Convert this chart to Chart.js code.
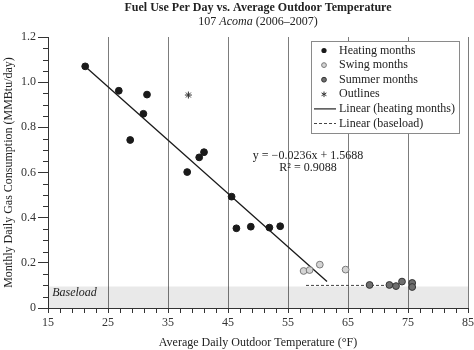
<!DOCTYPE html>
<html>
<head>
<meta charset="utf-8">
<script src="https://cdn.jsdelivr.net/npm/chart.js@4.4.1/dist/chart.umd.min.js"></script>
<style>
html,body{margin:0;padding:0;background:#fff;}
#wrap{width:474px;height:350px;position:relative;}
</style>
</head>
<body>
<div id="wrap"><canvas id="c" width="474" height="350"></canvas></div>
<script>
// ---- data ----
const heatingTemp = [21.2, 26.8, 31.5, 30.9, 28.7, 38.2, 40.2, 41.0, 45.6, 46.4, 48.8, 51.9, 53.7];
const heatingUse  = [1.07, 0.962, 0.945, 0.860, 0.744, 0.602, 0.667, 0.690, 0.493, 0.353, 0.360, 0.356, 0.362];
const swingTemp = [57.6, 58.6, 60.3, 64.6];
const swingUse  = [0.164, 0.168, 0.192, 0.170];
const summerTemp = [68.6, 71.9, 73.0, 74.0, 75.7, 75.7];
const summerUse  = [0.102, 0.102, 0.097, 0.117, 0.111, 0.093];
const outlierTemp = [38.4];
const outlierUse  = [0.943];
const fitTemp = [21.2, 61.5];
const fitUse  = [1.069, 0.117];
const baseTemp = [58, 72];
const baseUse  = [0.1, 0.1];
const bandTemp = [15, 85];
const bandUse  = [0.095, 0.095];
const xMin = 15, xMax = 85, xMinorStep = 2, xMajorStep = 10;
const yMin = 0, yMax = 1.2, yMinorStep = 0.05, yMajorStep = 0.2;
const titleText = "Fuel Use Per Day vs. Average Outdoor Temperature";
const subtitleParts = ["107 ", "Acoma", " (2006\u20132007)"];
const equationText = "y = \u22120.0236x + 1.5688";
const r2Text = "R\u00b2 = 0.9088";
const legendLabels = ["Heating months", "Swing months", "Summer months", "Outlines", "Linear (heating months)", "Linear (baseload)"];
const xTitle = "Average Daily Outdoor Temperature (\u00b0F)";
const yTitle = "Monthly Daily Gas Consumption (MMBtu/day)";

const pts = (xs, ys) => xs.map((x, i) => ({x: x, y: ys[i]}));
const SERIF = '"Liberation Serif", "DejaVu Serif", serif';
const isMajorX = v => Math.abs(((v - xMin) / xMajorStep) - Math.round((v - xMin) / xMajorStep)) < 1e-6;
const isMajorY = v => Math.abs((v / yMajorStep) - Math.round(v / yMajorStep)) < 1e-6;

const overlay = {
  id: 'overlay',
  afterDraw(chart) {
    const ctx = chart.ctx;
    const xs = chart.scales.x, ys = chart.scales.y;
    ctx.save();
    // minor y ticks (shorter)
    ctx.strokeStyle = '#333'; ctx.lineWidth = 1;
    const left = chart.chartArea.left;
    for (let v = yMin; v <= yMax + 1e-9; v += yMinorStep) {
      if (isMajorY(v)) continue;
      const py = Math.round(ys.getPixelForValue(v)) + 0.5;
      ctx.beginPath(); ctx.moveTo(left - 5, py); ctx.lineTo(left, py); ctx.stroke();
    }
    // title & subtitle
    const cx = (chart.chartArea.left + chart.chartArea.right) / 2;
    ctx.fillStyle = '#222';
    ctx.textBaseline = 'middle';
    ctx.textAlign = 'center';
    ctx.font = 'bold 12px ' + SERIF;
    ctx.fillText(titleText, cx, 8);
    const fonts = ['12px ' + SERIF, 'italic 12px ' + SERIF, '12px ' + SERIF];
    let total = 0;
    subtitleParts.forEach((s, i) => { ctx.font = fonts[i]; total += ctx.measureText(s).width; });
    let sx = cx - total / 2;
    ctx.textAlign = 'left';
    subtitleParts.forEach((s, i) => { ctx.font = fonts[i]; ctx.fillText(s, sx, 22); sx += ctx.measureText(s).width; });
    // equation
    ctx.textAlign = 'center';
    ctx.font = '12px ' + SERIF;
    ctx.fillText(equationText, 308, 156);
    ctx.fillText(r2Text, 308, 168);
    // baseload label
    ctx.textAlign = 'left';
    ctx.font = 'italic 12px ' + SERIF;
    ctx.fillText('Baseload', xs.getPixelForValue(15.7), ys.getPixelForValue(0.065));
    // legend
    const lx = 311, ly = 41, lw = 148, lh = 92;
    ctx.fillStyle = '#fff';
    ctx.fillRect(lx, ly, lw, lh);
    ctx.strokeStyle = '#8a8a8a';
    ctx.strokeRect(lx + 0.5, ly + 0.5, lw, lh);
    const rowH = 14.6, y0 = ly + 9.5, mx = 324, tx = 339;
    ctx.font = '12px ' + SERIF;
    legendLabels.forEach((lab, i) => {
      const yy = y0 + i * rowH;
      ctx.lineWidth = 1;
      if (i === 0) { ctx.fillStyle = '#1a1a1a'; ctx.beginPath(); ctx.arc(mx, yy, 2.6, 0, Math.PI * 2); ctx.fill(); }
      if (i === 1) { ctx.fillStyle = '#d4d4d4'; ctx.strokeStyle = '#777'; ctx.beginPath(); ctx.arc(mx, yy, 2.4, 0, Math.PI * 2); ctx.fill(); ctx.stroke(); }
      if (i === 2) { ctx.fillStyle = '#6e6e6e'; ctx.strokeStyle = '#333'; ctx.beginPath(); ctx.arc(mx, yy, 2.4, 0, Math.PI * 2); ctx.fill(); ctx.stroke(); }
      if (i === 3) {
        ctx.strokeStyle = '#333';
        for (let k = 0; k < 3; k++) {
          const a = k * Math.PI / 3 + Math.PI / 2;
          ctx.beginPath(); ctx.moveTo(mx - 2.8 * Math.cos(a), yy - 2.8 * Math.sin(a)); ctx.lineTo(mx + 2.8 * Math.cos(a), yy + 2.8 * Math.sin(a)); ctx.stroke();
        }
      }
      if (i === 4) { ctx.strokeStyle = '#222'; ctx.lineWidth = 1.2; ctx.beginPath(); ctx.moveTo(314, yy); ctx.lineTo(336, yy); ctx.stroke(); }
      if (i === 5) { ctx.strokeStyle = '#444'; ctx.setLineDash([3, 2]); ctx.beginPath(); ctx.moveTo(314, yy); ctx.lineTo(336, yy); ctx.stroke(); ctx.setLineDash([]); }
      ctx.fillStyle = '#222';
      ctx.fillText(lab, tx, yy);
    });
    ctx.restore();
  }
};

new Chart(document.getElementById('c'), {
  type: 'scatter',
  data: {
    datasets: [
      { label: 'Heating months', data: pts(heatingTemp, heatingUse), backgroundColor: '#1a1a1a', borderColor: '#1a1a1a', pointRadius: 3.4, borderWidth: 1, order: 1 },
      { label: 'Swing months', data: pts(swingTemp, swingUse), backgroundColor: '#d4d4d4', borderColor: '#7a7a7a', pointRadius: 3.4, borderWidth: 1, order: 1 },
      { label: 'Summer months', data: pts(summerTemp, summerUse), backgroundColor: '#6e6e6e', borderColor: '#333', pointRadius: 3.4, borderWidth: 1, order: 1 },
      { label: 'Outlines', data: pts(outlierTemp, outlierUse), pointStyle: 'star', backgroundColor: '#333', borderColor: '#333', pointRadius: 3.5, borderWidth: 1, order: 1 },
      { label: 'Linear (heating months)', type: 'line', data: pts(fitTemp, fitUse), borderColor: '#1a1a1a', borderWidth: 1.3, pointRadius: 0, fill: false, order: 2 },
      { label: 'Linear (baseload)', type: 'line', data: pts(baseTemp, baseUse), borderColor: '#444', borderWidth: 1, borderDash: [3, 2], pointRadius: 0, fill: false, order: 2 },
      { label: 'band', type: 'line', data: pts(bandTemp, bandUse), borderWidth: 0, borderColor: 'rgba(0,0,0,0)', backgroundColor: 'rgba(0,0,0,0.085)', pointRadius: 0, fill: 'origin', order: 3 }
    ]
  },
  options: {
    responsive: false,
    animation: false,
    layout: { padding: { top: 37, right: 0, left: 0, bottom: 0 } },
    plugins: { legend: { display: false }, tooltip: { enabled: false }, title: { display: false } },
    scales: {
      x: {
        type: 'linear', min: xMin, max: xMax,
        afterFit: s => { s.height = 42; s.paddingRight = 6; },
        afterBuildTicks: s => { const t = []; for (let v = xMin; v <= xMax + 1e-9; v += xMinorStep) t.push({value: +v.toFixed(4)}); s.ticks = t; },
        ticks: { autoSkip: false, maxRotation: 0, padding: 3, color: '#333', font: { family: SERIF, size: 12 },
          callback: v => isMajorX(v) ? String(Math.round(v)) : '' },
        grid: { drawTicks: true, tickLength: 5, tickColor: '#333',
          color: c => (c.tick && isMajorX(c.tick.value) && c.tick.value !== xMin) ? '#7c7c7c' : 'rgba(0,0,0,0)',
          lineWidth: 1 },
        border: { display: true, color: '#333', width: 1 },
        title: { display: true, text: xTitle, color: '#222', font: { family: SERIF, size: 12 }, padding: { top: 2, bottom: 0 } }
      },
      y: {
        type: 'linear', min: yMin, max: yMax,
        afterFit: s => { s.width = 48; },
        afterBuildTicks: s => { const t = []; for (let i = 0; i <= Math.round((yMax - yMin) / yMinorStep); i++) t.push({value: +(yMin + i * yMinorStep).toFixed(4)}); s.ticks = t; },
        ticks: { autoSkip: false, padding: 2, color: '#333', font: { family: SERIF, size: 12 },
          callback: v => isMajorY(v) ? (v === 0 ? '0' : v.toFixed(1)) : '' },
        grid: { drawOnChartArea: false, drawTicks: true, tickLength: 10,
          tickColor: c => (c.tick && isMajorY(c.tick.value)) ? '#333' : 'rgba(0,0,0,0)' },
        border: { display: true, color: '#333', width: 1 },
        title: { display: true, text: yTitle, color: '#222', font: { family: SERIF, size: 12 }, padding: { top: 2, bottom: 0 } }
      }
    }
  },
  plugins: [overlay]
});
</script>
</body>
</html>
